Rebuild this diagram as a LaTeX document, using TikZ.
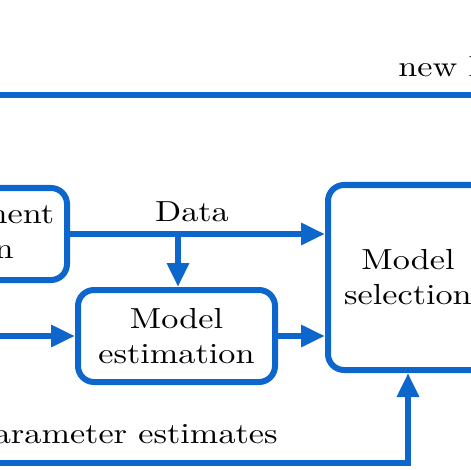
\documentclass[tikz,border=0pt]{standalone}
\usepackage{fontspec}
\setmainfont{lmroman10-regular.otf}[FakeStretch=1.18]
\usetikzlibrary{arrows.meta}
\definecolor{diagblue}{RGB}{12,102,204}
\tikzset{
  blk/.style={draw=diagblue, line width=3pt, rounded corners=8pt, align=center, inner sep=0pt,
    font=\fontsize{14.5pt}{17.5pt}\selectfont},
  lbl/.style={inner sep=0pt, font=\fontsize{14.5pt}{17.5pt}\selectfont},
  conn/.style={draw=diagblue, line width=3pt},
  arr/.style={conn, -{Triangle[length=12pt,width=10.5pt]}}
}
\begin{document}
\begin{tikzpicture}[x=0.5pt,y=-0.5pt]
\useasboundingbox (0,0) rectangle (470,470);
% blocks
\node[blk, minimum width=100pt, minimum height=46pt] (exp) at (-33,234) {Experiment\\design};
\node[blk, minimum width=98.5pt, minimum height=46pt] (est) at (176.5,336) {Model\\estimation};
\node[blk, minimum width=80pt, minimum height=92.5pt] (sel) at (408,277.5) {Model\\selection};
% helper coordinates
\coordinate (split) at (178,234);
\coordinate (inL) at (-20,336);
\coordinate (topR) at (520,95);
\coordinate (botL) at (-20,463);
% connectors
\draw[arr] (exp.east) -- (exp.east -| sel.west);
\draw[arr] (split) -- (split |- est.north);
\draw[arr] (est.east) -- (est.east -| sel.west);
\draw[arr] (inL) -- (est.west);
\draw[arr] (topR) -| (exp.north);
\draw[arr] (botL) -| (sel.south);
% labels
\node[lbl, anchor=base] (data) at (192,221) {Data};
\node[lbl, anchor=base west] (newl) at (398,77) {new Information};
\node[lbl, anchor=base east] (par) at (278,443) {Parameter estimates};
\end{tikzpicture}
\end{document}
